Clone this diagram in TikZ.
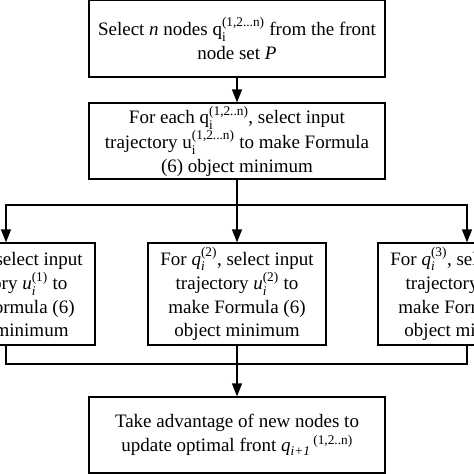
\documentclass[tikz,border=0pt]{standalone}
\usepackage{amsmath}
\usepackage{fontspec}
\setmainfont{Liberation Serif}
\usetikzlibrary{arrows.meta}
\tikzset{
  box/.style={draw, line width=1.2pt, align=center, inner sep=0pt,
    minimum width=296pt, font=\fontsize{19}{23.5}\selectfont},
  sbox/.style={box, minimum width=178pt, minimum height=102pt},
  conn/.style={line width=1.2pt},
  arr/.style={conn, -{Triangle[length=13pt,width=10pt]}}
}
\newcommand\qu[3]{$\text{#1}_{\text{#2}}^{\text{#3}}$}
\newcommand\qit[3]{$\textit{#1}_{\textit{#2}}^{\text{#3}}$}
\begin{document}
\begin{tikzpicture}[x=1pt,y=1pt]
\useasboundingbox (0,0) rectangle (474,-474);
\clip (0,0) rectangle (474,-474);
\node[box, minimum height=77pt] (top) at (237,-38.5)
  {Select \textit{n} nodes \qu{q}{i}{(1,2...n)} from the front\\ node set \textit{P}};
\node[box, minimum height=76pt] (sel) at (237,-141)
  {For each \qu{q}{i}{(1,2..n)}, select input\\ trajectory \qu{u}{i}{(1,2...n)} to make Formula\\ (6) object minimum};
\node[sbox] (L) at (6,-294)
  {For \qit{q}{i}{(1)}, select input\\ trajectory \qit{u}{i}{(1)} to\\ make Formula (6)\\ object minimum};
\node[sbox] (M) at (237,-294)
  {For \qit{q}{i}{(2)}, select input\\ trajectory \qit{u}{i}{(2)} to\\ make Formula (6)\\ object minimum};
\node[sbox] (R) at (467,-294)
  {For \qit{q}{i}{(3)}, select input\\ trajectory \qit{u}{i}{(3)} to\\ make Formula (6)\\ object minimum};
\node[box, minimum height=76pt] (bot) at (237,-435)
  {Take advantage of new nodes to\\ update optimal front $\textit{q}_{\textit{i+1}}\,{}^{\text{(1,2..n)}}$};
\coordinate (j1) at (237,-205);
\coordinate (j2) at (237,-364);
\draw[arr] (top) -- (sel);
\draw[conn] (sel) -- (j1);
\draw[arr] (j1) -| (L.north);
\draw[arr] (j1) -- (M.north);
\draw[arr] (j1) -| (R.north);
\draw[conn] (L.south) |- (j2);
\draw[conn] (R.south) |- (j2);
\draw[conn] (M.south) -- (j2);
\draw[arr] (j2) -- (bot);
\end{tikzpicture}
\end{document}
